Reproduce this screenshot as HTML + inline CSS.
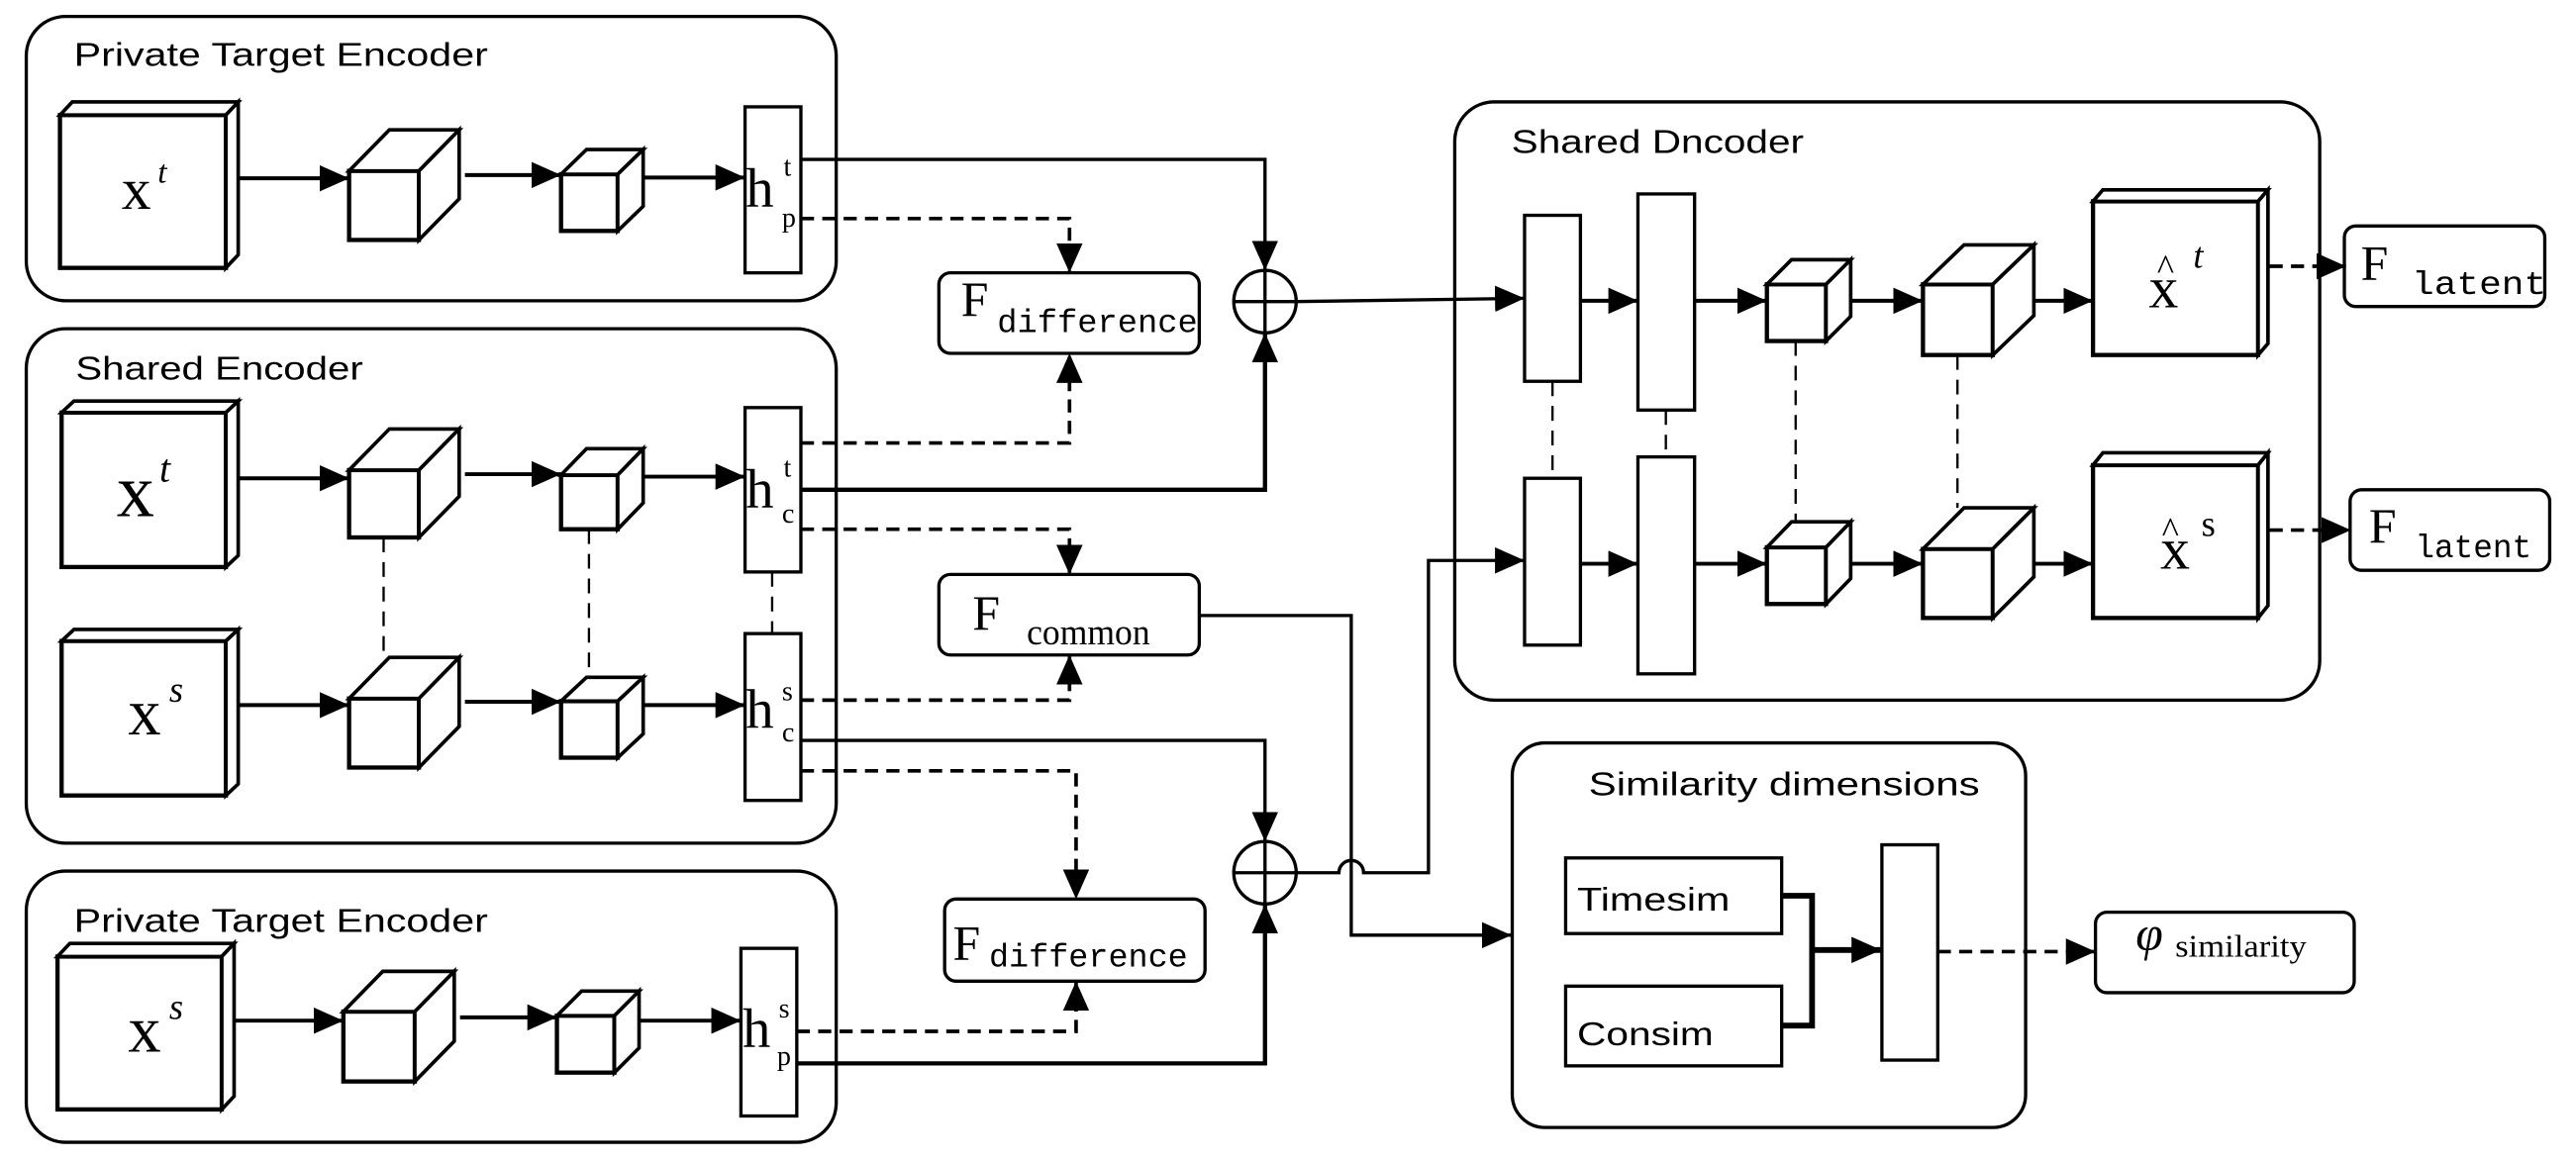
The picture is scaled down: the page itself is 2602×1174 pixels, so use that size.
<!DOCTYPE html>
<html><head><meta charset="utf-8"><style>
html,body{margin:0;padding:0;background:#fff;}
svg{display:block;}
.t{font-family:"Liberation Sans",sans-serif;font-size:20px;}
.s{font-family:"Liberation Serif",serif;}
.m{font-family:"Liberation Mono",monospace;}
</style></head><body>
<svg id="g" width="2602" height="1174" viewBox="0 0 1568 707" preserveAspectRatio="none" xmlns="http://www.w3.org/2000/svg">
<defs>
<marker id="a" markerUnits="userSpaceOnUse" markerWidth="18" markerHeight="16" refX="18" refY="8" orient="auto"><path d="M0,0 L18,8 L0,16 z" fill="#000"/></marker>
</defs>
<g fill="none" stroke="#000" stroke-width="2">
<rect x="16" y="10" width="493" height="173" rx="24"/>
<rect x="16" y="200" width="493" height="313" rx="24"/>
<rect x="16" y="530" width="493" height="165" rx="24"/>
<rect x="885.5" y="62" width="526.5" height="364" rx="24"/>
<rect x="920.5" y="452" width="312.5" height="234" rx="20"/>
<rect x="571.5" y="166" width="158.5" height="49" rx="7"/>
<rect x="571.5" y="349.5" width="158.5" height="49" rx="7"/>
<rect x="575" y="547" width="158.5" height="50" rx="7"/>
<rect x="1427" y="137.5" width="122" height="49" rx="7"/>
<rect x="1430.5" y="298" width="121.5" height="49" rx="7"/>
<rect x="1275.5" y="555" width="157.5" height="49" rx="7"/>
<rect x="453.5" y="65" width="34" height="101"/>
<rect x="453.5" y="248" width="34" height="100"/>
<rect x="453.5" y="385.5" width="34" height="101.5"/>
<rect x="451" y="577" width="34" height="102"/>
<rect x="928" y="131" width="34" height="101"/>
<rect x="928" y="291" width="34" height="101.5"/>
<rect x="997" y="118" width="34.5" height="131.5"/>
<rect x="997" y="278" width="34.5" height="132"/>
<rect x="953" y="522" width="131.5" height="46"/>
<rect x="953" y="600" width="131.5" height="48.5"/>
<rect x="1145.5" y="514" width="34" height="131"/>
<path d="M1084.5,545 H1103 V624 H1084.5" stroke-width="3.5"/>
<path d="M1103,578 H1145" stroke-width="3.5" marker-end="url(#a)"/>
<circle cx="770" cy="183.5" r="19"/>
<path d="M751,183.5 H789 M770,164.5 V202.5"/>
<circle cx="770" cy="531" r="19"/>
<path d="M751,531 H789 M770,512 V550"/>
<path d="M487.5,97 H770 V164.5" marker-end="url(#a)"/>
<path d="M487.5,298 H770 V202.5" stroke-width="2.6" marker-end="url(#a)"/>
<path d="M487.5,450.5 H770 V512" marker-end="url(#a)"/>
<path d="M485,647 H770 V550" stroke-width="2.6" marker-end="url(#a)"/>
<path d="M789,183.5 L928,181.5" marker-end="url(#a)"/>
<path d="M789,531 H815 A7.5,7.5 0 0 1 830,531 H869.5 V341 H928" marker-end="url(#a)"/>
<path d="M730,374.5 H822.5 V569 H920" marker-end="url(#a)"/>
<g stroke-width="2.4">
<path d="M145,108.5 H212.5" marker-end="url(#a)"/>
<path d="M283,106.5 H341.5" marker-end="url(#a)"/>
<path d="M392,108 H453.5" marker-end="url(#a)"/>
<path d="M145,291 H212.5" marker-end="url(#a)"/>
<path d="M283,288.5 H341.5" marker-end="url(#a)"/>
<path d="M392,290 H453.5" marker-end="url(#a)"/>
<path d="M145,429 H212.5" marker-end="url(#a)"/>
<path d="M283,427 H341.5" marker-end="url(#a)"/>
<path d="M392,429 H453.5" marker-end="url(#a)"/>
<path d="M142,621 H209" marker-end="url(#a)"/>
<path d="M280,619 H339" marker-end="url(#a)"/>
<path d="M389,621 H451" marker-end="url(#a)"/>
<path d="M962,183 H997" marker-end="url(#a)"/>
<path d="M1031.5,183 H1075.5" marker-end="url(#a)"/>
<path d="M1126.5,183 H1170.5" marker-end="url(#a)"/>
<path d="M1238,183 H1274" marker-end="url(#a)"/>
<path d="M962,343 H997" marker-end="url(#a)"/>
<path d="M1031.5,343 H1075.5" marker-end="url(#a)"/>
<path d="M1126.5,343 H1170.5" marker-end="url(#a)"/>
<path d="M1238,343 H1274" marker-end="url(#a)"/>
</g>
<g stroke-dasharray="8,5" stroke-width="2.2">
<path d="M487.5,133 H651 V166" marker-end="url(#a)"/>
<path d="M487.5,269.5 H651 V215" marker-end="url(#a)"/>
<path d="M487.5,322 H651 V349.5" marker-end="url(#a)"/>
<path d="M487.5,426 H651 V398.5" marker-end="url(#a)"/>
<path d="M487.5,469 H655 V547" marker-end="url(#a)"/>
<path d="M485,627.5 H655 V597" marker-end="url(#a)"/>
<path d="M1381.5,162 H1428" marker-end="url(#a)"/>
<path d="M1381.5,322.5 H1431" marker-end="url(#a)"/>
<path d="M1179.5,579 H1275.5" marker-end="url(#a)"/>
</g>
<g stroke-dasharray="9,6" stroke-width="1.4">
<path d="M233.5,327 V400"/>
<path d="M358.5,322 V412"/>
<path d="M470,348 V385.5"/>
<path d="M945,232 V291"/>
<path d="M1014,249.5 V278"/>
<path d="M1093,207.5 V318"/>
<path d="M1191.5,216 V309"/>
</g>
<g id="cubes"></g>
</g>
<g fill="#000">
<text class="t" x="45" y="40" textLength="252" lengthAdjust="spacingAndGlyphs">Private Target Encoder</text>
<text class="t" x="46" y="231" textLength="175" lengthAdjust="spacingAndGlyphs">Shared Encoder</text>
<text class="t" x="45" y="567" textLength="252" lengthAdjust="spacingAndGlyphs">Private Target Encoder</text>
<text class="t" x="920" y="93" textLength="178" lengthAdjust="spacingAndGlyphs">Shared Dncoder</text>
<text class="t" x="967" y="484" textLength="238" lengthAdjust="spacingAndGlyphs">Similarity dimensions</text>
<text class="t" x="960" y="554" font-size="22" textLength="93" lengthAdjust="spacingAndGlyphs">Timesim</text>
<text class="t" x="960" y="636" font-size="22" textLength="83" lengthAdjust="spacingAndGlyphs">Consim</text>

<text class="s" x="74" y="127" font-size="36">x</text><text class="s" x="96" y="111" font-size="20" font-style="italic">t</text>
<text class="s" x="71" y="314" font-size="46">x</text><text class="s" x="97" y="293" font-size="24" font-style="italic">t</text>
<text class="s" x="78" y="447" font-size="40">x</text><text class="s" x="103" y="427" font-size="22" font-style="italic">s</text>
<text class="s" x="78" y="640" font-size="40">x</text><text class="s" x="103" y="620" font-size="22" font-style="italic">s</text>
<text class="s" x="1308" y="187" font-size="36">x</text><text class="s" x="1313" y="170" font-size="22">^</text><text class="s" x="1335" y="163" font-size="22" font-style="italic">t</text>
<text class="s" x="1315" y="346" font-size="36">x</text><text class="s" x="1316" y="330" font-size="22">^</text><text class="s" x="1340" y="326" font-size="22">s</text>

<text class="s" x="454" y="126" font-size="34">h</text><text class="s" x="477" y="107" font-size="17">t</text><text class="s" x="476" y="138" font-size="17">p</text>
<text class="s" x="454" y="309" font-size="34">h</text><text class="s" x="477" y="290" font-size="17">t</text><text class="s" x="476" y="318" font-size="17">c</text>
<text class="s" x="454" y="443" font-size="34">h</text><text class="s" x="476" y="426" font-size="17">s</text><text class="s" x="476" y="451" font-size="17">c</text>
<text class="s" x="452" y="637" font-size="34">h</text><text class="s" x="474" y="619" font-size="17">s</text><text class="s" x="473" y="648" font-size="17">p</text>

<text class="s" x="585" y="192" font-size="30">F</text><text class="m" x="607" y="202" font-size="20" textLength="122" lengthAdjust="spacingAndGlyphs">difference</text>
<text class="s" x="592" y="383" font-size="30">F</text><text class="s" x="625" y="392" font-size="22" textLength="75" lengthAdjust="spacingAndGlyphs">common</text>
<text class="s" x="580" y="584" font-size="30">F</text><text class="m" x="602" y="588" font-size="20" textLength="121" lengthAdjust="spacingAndGlyphs">difference</text>
<text class="s" x="1437" y="170" font-size="30">F</text><text class="m" x="1468" y="179" font-size="20" textLength="82" lengthAdjust="spacingAndGlyphs">latent</text>
<text class="s" x="1442" y="330" font-size="30">F</text><text class="m" x="1470" y="339" font-size="20" textLength="71" lengthAdjust="spacingAndGlyphs">latent</text>
<text class="s" x="1300" y="578" font-size="30" font-style="italic">φ</text><text class="s" x="1324" y="582" font-size="19" textLength="80" lengthAdjust="spacingAndGlyphs">similarity</text>
</g>
</svg>
<script>
var C=[[36.5,70,137.5,163,7.5,8],[37.5,251,137.5,345,7.5,7],[37.5,390,137.5,484,7.5,7],[35,582,135,675,7.5,8],
[212.5,104,255,146,24.5,25],[341.5,106,376,140.5,15.5,15],
[212.5,286,255,327,24.5,25],[341.5,289,376,322,15.5,16],
[212.5,425,255,467,24.5,25],[341.5,426.6,376,461,15.5,14.5],
[209,615.5,252.5,658,24,24.5],[339,618,374,652.6,15,15],
[1075.5,173,1111.5,207.5,15,15],[1170.5,173,1213,216,25,24],[1274,122.5,1374.5,216,6,7],
[1075.5,333,1111.5,367.5,15,15.5],[1170.5,334,1213,376,25,25],[1274,283,1374.5,376,6,7.5]];
var g=document.getElementById('cubes'),h='';
C.forEach(function(c){var x1=c[0],y1=c[1],x2=c[2],y2=c[3],dx=c[4],dy=c[5];
h+='<rect x="'+x1+'" y="'+y1+'" width="'+(x2-x1)+'" height="'+(y2-y1)+'" fill="#fff" stroke-width="2.6"/>';
h+='<polygon points="'+x1+','+y1+' '+(x1+dx)+','+(y1-dy)+' '+(x2+dx)+','+(y1-dy)+' '+x2+','+y1+'" fill="#fff" stroke-width="2.2"/>';
h+='<polygon points="'+x2+','+y1+' '+(x2+dx)+','+(y1-dy)+' '+(x2+dx)+','+(y2-dy)+' '+x2+','+y2+'" fill="#fff" stroke-width="2.2"/>';});
g.innerHTML=h;
</script>
</body></html>
